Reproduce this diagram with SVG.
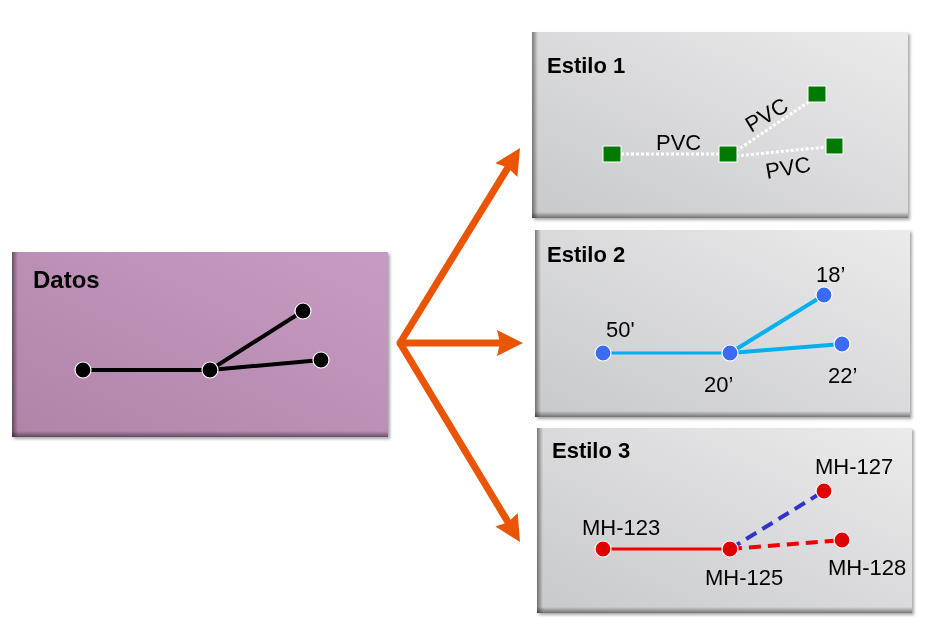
<svg xmlns="http://www.w3.org/2000/svg" width="942" height="631" viewBox="0 0 942 631">
<defs>
<linearGradient id="gGray" x1="0" y1="1" x2="1" y2="0">
<stop offset="0" stop-color="#c8c9cb"/>
<stop offset="1" stop-color="#ebebec"/>
</linearGradient>
<linearGradient id="gPurple" x1="0" y1="1" x2="1" y2="0">
<stop offset="0" stop-color="#b084a8"/>
<stop offset="1" stop-color="#c89bc4"/>
</linearGradient>
<linearGradient id="edgeL" x1="0" y1="0" x2="1" y2="0">
<stop offset="0" stop-color="#000" stop-opacity="0.45"/>
<stop offset="1" stop-color="#000" stop-opacity="0"/>
</linearGradient>
<linearGradient id="edgeB" x1="0" y1="1" x2="0" y2="0">
<stop offset="0" stop-color="#000" stop-opacity="0.45"/>
<stop offset="1" stop-color="#000" stop-opacity="0"/>
</linearGradient>
<filter id="sh" x="-5%" y="-5%" width="110%" height="115%">
<feGaussianBlur in="SourceAlpha" stdDeviation="1.5"/>
<feOffset dx="2" dy="2"/>
<feComponentTransfer><feFuncA type="linear" slope="0.35"/></feComponentTransfer>
<feMerge><feMergeNode/><feMergeNode in="SourceGraphic"/></feMerge>
</filter>
<marker id="arr" viewBox="0 0 26 26" refX="14" refY="13" markerWidth="26" markerHeight="26" orient="auto" markerUnits="userSpaceOnUse">
<path d="M0,0 L26,13 L0,26 L3,13 Z" fill="#ea5504"/>
</marker>
</defs>
<style>
.title{font-family:"Liberation Sans",Arial,sans-serif;font-weight:bold;font-size:22px;fill:#000}
.lbl{font-family:"Liberation Sans",Arial,sans-serif;font-size:22px;fill:#000}
.edge{fill:none;stroke:#ea5504;stroke-width:7;stroke-linecap:butt;stroke-linejoin:round}
.nd{stroke:#fff;stroke-width:1.2}
.sq{fill:#007a00;stroke:#fff;stroke-width:1}
.dot{stroke:#fff;stroke-width:3;stroke-dasharray:3 2;fill:none}
</style>

<g id="datos" filter="url(#sh)">
<rect x="12" y="252" width="376" height="185" fill="url(#gPurple)"/>
<rect x="12" y="252" width="6" height="185" fill="url(#edgeL)"/>
<rect x="12" y="431" width="376" height="6" fill="url(#edgeB)"/>
<text class="title" x="33" y="288" style="font-size:24px">Datos</text>
<g stroke="#000" stroke-width="4" stroke-linecap="round">
<line x1="83" y1="370" x2="210" y2="370"/>
<line x1="210" y1="370" x2="303" y2="311"/>
<line x1="210" y1="370" x2="321" y2="360"/>
</g>
<circle class="nd" cx="83" cy="370" r="8" fill="#000"/>
<circle class="nd" cx="210" cy="370" r="8" fill="#000"/>
<circle class="nd" cx="303" cy="311" r="8" fill="#000"/>
<circle class="nd" cx="321" cy="360" r="8" fill="#000"/>
</g>

<g id="estilo1" filter="url(#sh)">
<rect x="532" y="32" width="376" height="186" fill="url(#gGray)"/>
<rect x="532" y="32" width="6" height="186" fill="url(#edgeL)"/>
<rect x="532" y="212" width="376" height="6" fill="url(#edgeB)"/>
<text class="title" x="547" y="73">Estilo 1</text>
<line class="dot" x1="621" y1="154" x2="720" y2="154"/>
<line class="dot" x1="736" y1="151" x2="810" y2="101"/>
<line class="dot" x1="736" y1="156" x2="827" y2="147"/>
<rect class="sq" x="603" y="146" width="18" height="16"/>
<rect class="sq" x="719" y="146" width="18" height="16"/>
<rect class="sq" x="808" y="86" width="18" height="16"/>
<rect class="sq" x="826" y="138" width="17" height="16"/>
<text class="lbl" x="656" y="150">PVC</text>
<text class="lbl" x="0" y="0" transform="translate(751,133) rotate(-31)">PVC</text>
<text class="lbl" x="0" y="0" transform="translate(767,179) rotate(-10)">PVC</text>
</g>

<g id="estilo2" filter="url(#sh)">
<rect x="535" y="230" width="375" height="187" fill="url(#gGray)"/>
<rect x="535" y="230" width="6" height="187" fill="url(#edgeL)"/>
<rect x="535" y="411" width="375" height="6" fill="url(#edgeB)"/>
<text class="title" x="547" y="262">Estilo 2</text>
<g stroke="#00b0f0" stroke-linecap="round">
<line x1="603" y1="353" x2="730" y2="353" stroke-width="3"/>
<line x1="730" y1="353" x2="824" y2="295" stroke-width="4"/>
<line x1="730" y1="353" x2="842" y2="344" stroke-width="4"/>
</g>
<circle class="nd" cx="603" cy="353" r="8" fill="#3a6af5"/>
<circle class="nd" cx="730" cy="353" r="8" fill="#3a6af5"/>
<circle class="nd" cx="824" cy="295" r="8" fill="#3a6af5"/>
<circle class="nd" cx="842" cy="344" r="8" fill="#3a6af5"/>
<text class="lbl" x="606" y="337">50'</text>
<text class="lbl" x="816" y="282">18’</text>
<text class="lbl" x="704" y="392">20’</text>
<text class="lbl" x="828" y="383">22’</text>
</g>

<g id="estilo3" filter="url(#sh)">
<rect x="537" y="428" width="375" height="185" fill="url(#gGray)"/>
<rect x="537" y="428" width="6" height="185" fill="url(#edgeL)"/>
<rect x="537" y="607" width="375" height="6" fill="url(#edgeB)"/>
<text class="title" x="552" y="458">Estilo 3</text>
<line x1="603" y1="549" x2="730" y2="549" stroke="#f00000" stroke-width="3"/>
<line x1="730" y1="549" x2="824" y2="491" stroke="#3333cc" stroke-width="4" stroke-dasharray="12 7"/>
<line x1="730" y1="549" x2="842" y2="540" stroke="#f00000" stroke-width="4" stroke-dasharray="12 7"/>
<circle class="nd" cx="603" cy="549" r="8" fill="#e00000"/>
<circle class="nd" cx="730" cy="549" r="8" fill="#e00000"/>
<circle class="nd" cx="824" cy="491" r="8" fill="#e00000"/>
<circle class="nd" cx="842" cy="540" r="8" fill="#e00000"/>
<text class="lbl" x="582" y="535">MH-123</text>
<text class="lbl" x="815" y="474">MH-127</text>
<text class="lbl" x="705" y="585">MH-125</text>
<text class="lbl" x="828" y="575">MH-128</text>
</g>

<g id="connectors">
<path class="edge" d="M400,343 L513.7,158.2" marker-end="url(#arr)"/>
<path class="edge" d="M400,343 L511,343" marker-end="url(#arr)"/>
<path class="edge" d="M400,343 L513.8,531.7" marker-end="url(#arr)"/>
<circle cx="400" cy="343" r="3.5" fill="#ea5504"/>
</g>
</svg>
